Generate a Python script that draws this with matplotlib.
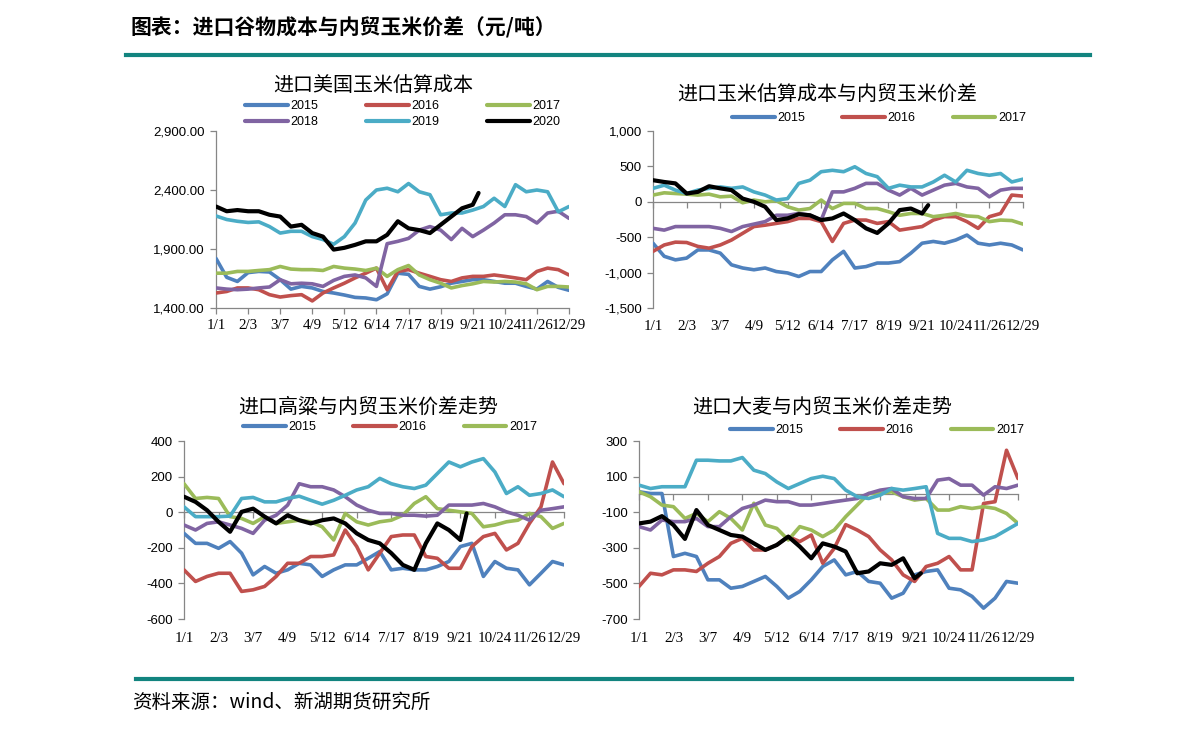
import matplotlib
matplotlib.use('Agg')
import matplotlib.pyplot as plt
from matplotlib.lines import Line2D
from matplotlib.ticker import FuncFormatter

plt.rcParams['font.family'] = ['Noto Sans CJK SC', 'DejaVu Sans']

# x grid: day of year, every 11 days (1/1 .. 12/29)
days = list(range(0, 364, 11))
days_2020 = days[:25] + [270]
tick_days = list(range(0, 364, 33))
tick_labels = ['1/1', '2/3', '3/7', '4/9', '5/12', '6/14', '7/17', '8/19',
               '9/21', '10/24', '11/26', '12/29']
years = ['2015', '2016', '2017', '2018', '2019', '2020']
colors = ['#4F81BD', '#C0504D', '#9BBB59', '#8064A2', '#4BACC6', '#000000']

# 进口美国玉米估算成本
cost_2015 = [1820, 1660, 1625, 1700, 1710, 1705, 1640, 1560, 1583, 1570, 1540, 1527,
             1510, 1490, 1485, 1470, 1520, 1695, 1685, 1583, 1560, 1580, 1610, 1625,
             1640, 1640, 1625, 1610, 1610, 1583, 1560, 1625, 1575, 1550]
cost_2016 = [1527, 1540, 1570, 1570, 1555, 1513, 1493, 1505, 1513, 1460, 1527, 1570,
             1610, 1655, 1695, 1738, 1555, 1710, 1725, 1695, 1668, 1640, 1625, 1655,
             1668, 1668, 1680, 1668, 1655, 1640, 1710, 1738, 1725, 1680]
cost_2017 = [1695, 1695, 1710, 1710, 1718, 1725, 1752, 1730, 1725, 1725, 1718, 1752,
             1738, 1730, 1718, 1738, 1668, 1725, 1760, 1680, 1640, 1610, 1570, 1590,
             1605, 1625, 1620, 1625, 1620, 1605, 1555, 1583, 1583, 1578]
cost_2018 = [1570, 1560, 1555, 1560, 1570, 1578, 1640, 1605, 1610, 1605, 1583, 1634,
             1668, 1680, 1655, 1583, 1945, 1965, 1990, 2060, 2090, 2060, 1980, 2075,
             2005, 2060, 2120, 2190, 2190, 2175, 2120, 2205, 2220, 2160]
cost_2019 = [2180, 2150, 2135, 2125, 2130, 2090, 2035, 2050, 2050, 2005, 1980, 1940,
             2005, 2120, 2315, 2400, 2415, 2385, 2455, 2385, 2360, 2190, 2205, 2205,
             2230, 2260, 2330, 2260, 2445, 2385, 2400, 2385, 2215, 2260]
cost_2020 = [2260, 2220, 2230, 2220, 2220, 2190, 2175, 2090, 2105, 2035, 2005, 1895,
             1910, 1935, 1965, 1965, 2020, 2135, 2075, 2060, 2035, 2105, 2175, 2245,
             2275, 2375]

# 进口玉米估算成本与内贸玉米价差
corn_2015 = [-585, -770, -820, -795, -680, -680, -725, -890, -935, -960, -935, -985,
             -1005, -1055, -985, -985, -820, -700, -935, -915, -865, -865, -845, -725,
             -585, -560, -585, -540, -470, -585, -610, -585, -610, -680]
corn_2016 = [-700, -610, -570, -575, -630, -655, -610, -540, -445, -350, -330, -305,
             -280, -235, -235, -280, -560, -305, -258, -258, -305, -280, -400, -375,
             -350, -258, -210, -210, -280, -375, -210, -165, 95, 80]
corn_2017 = [95, 127, 117, 108, 95, 108, 70, 80, -14, 25, 0, 15, -70, -117, -95, 25,
             -95, -23, -23, -95, -95, -140, -190, -165, -165, -210, -190, -165, -200,
             -210, -280, -258, -265, -315]
corn_2018 = [-375, -400, -350, -350, -350, -350, -375, -420, -350, -315, -280, -190,
             -190, -165, -190, -258, 140, 140, 190, 260, 260, 165, 95, 190, 95, 165,
             235, 260, 210, 190, 70, 165, 190, 190]
corn_2019 = [190, 235, 165, 117, 165, 190, 210, 190, 210, 140, 95, 25, 45, 260, 305,
             425, 445, 425, 495, 400, 355, 190, 235, 210, 210, 280, 375, 280, 445, 400,
             375, 400, 280, 320]
corn_2020 = [305, 280, 260, 117, 140, 220, 190, 165, 45, 0, -70, -258, -235, -175,
             -190, -258, -235, -165, -258, -375, -440, -305, -117, -95, -165, -47]

# 进口高粱与内贸玉米价差走势
sorg_2015 = [-119, -175, -175, -203, -165, -230, -352, -305, -343, -324, -287, -296,
             -361, -324, -296, -296, -259, -221, -324, -315, -324, -324, -305, -277,
             -193, -175, -361, -277, -315, -324, -408, -343, -277, -296]
sorg_2016 = [-324, -389, -361, -343, -343, -445, -436, -417, -361, -287, -287, -249,
             -249, -240, -100, -193, -324, -230, -137, -128, -128, -249, -259, -315,
             -315, -193, -137, -119, -212, -175, -63, 30, 282, 160]
sorg_2017 = [160, 77, 83, 77, -25, -35, -63, -25, -63, -54, -45, -54, -82, -156, -7,
             -54, -72, -54, -45, -17, 49, 87, 20, 11, 2, -7, -82, -72, -54, -45, -7,
             -25, -91, -63]
sorg_2018 = [-72, -100, -63, -54, -72, -91, -119, -45, -17, 40, 160, 143, 143, 125, 87,
             40, 11, -7, -7, -17, -17, -22, -17, 40, 40, 40, 49, 30, 2, -17, -45, 11,
             20, 30]
sorg_2019 = [30, -25, -25, -25, -22, 77, 83, 58, 58, 77, 90, 67, 45, 67, 95, 125, 143,
             190, 160, 143, 133, 152, 217, 282, 255, 282, 301, 226, 105, 143, 95, 105,
             125, 87]
sorg_2020 = [87, 58, 11, -54, -110, 2, 20, -25, -63, -17, -45, -63, -45, -35, -63,
             -119, -156, -175, -230, -296, -324, -175, -63, -100, -156, -7]

# 进口大麦与内贸玉米价差走势
barley_2015 = [15, 5, 5, -349, -331, -349, -480, -480, -527, -517, -489, -461, -517,
               -583, -545, -480, -405, -368, -452, -433, -489, -499, -583, -555, -452,
               -433, -424, -527, -536, -573, -639, -583, -489, -499]
barley_2016 = [-517, -443, -452, -424, -424, -433, -387, -349, -275, -247, -312, -312,
               -284, -237, -265, -228, -387, -303, -170, -200, -237, -312, -368, -452,
               -489, -405, -387, -349, -424, -424, -51, -41, 248, 89]
barley_2017 = [15, -13, -60, -69, -135, -107, -153, -97, -135, -200, -50, -172, -191,
               -256, -181, -200, -237, -200, -125, -60, 5, 5, 15, -13, -32, -23, -88,
               -88, -69, -79, -69, -79, -107, -163]
barley_2018 = [-181, -200, -144, -153, -153, -135, -181, -181, -125, -79, -60, -32, -41,
               -41, -60, -60, -51, -41, -32, -23, 5, 24, 33, -13, -23, -23, 80, 89, 52,
               52, -4, 43, 33, 52]
barley_2019 = [52, 33, 43, 43, 43, 192, 192, 188, 188, 207, 136, 117, 70, 33, 61, 89,
               102, 89, 24, -13, -23, -4, 33, 24, 33, 43, -219, -247, -247, -265, -256,
               -237, -200, -163]
barley_2020 = [-163, -153, -122, -172, -250, -88, -172, -200, -228, -237, -275, -312,
               -284, -237, -293, -359, -275, -293, -321, -443, -433, -387, -396, -359,
               -471, -443]

W, H = 1191, 732
GRAY = '#868686'
fig = plt.figure(figsize=(W / 100, H / 100), dpi=100)


def px_rect(x0, y0, x1, y1):
    return [x0 / W, 1 - y1 / H, (x1 - x0) / W, (y1 - y0) / H]


def draw_panel(rect, series, ylim, yticks, fmt, zero_axis):
    ax = fig.add_axes(rect)
    lines = []
    for name, vals, c in zip(years, series, colors):
        x = days_2020 if name == '2020' else days
        ln, = ax.plot(x, vals, color=c, lw=3.0 if name == '2020' else 2.6,
                      solid_joinstyle='round', solid_capstyle='round',
                      label=name, zorder=3)
        lines.append(ln)
    ax.set_xlim(0, 363)
    ax.set_ylim(*ylim)
    ax.set_yticks(yticks)
    ax.yaxis.set_major_formatter(FuncFormatter(lambda v, p: fmt.format(v)))
    for s in ['top', 'right']:
        ax.spines[s].set_visible(False)
    for s in ['left', 'bottom']:
        ax.spines[s].set_color(GRAY)
        ax.spines[s].set_linewidth(0.9)
    ax.tick_params(axis='y', length=4, width=0.9, color=GRAY, pad=4,
                   labelsize=9.5, labelfontfamily='Liberation Sans')
    ax.set_xticks(tick_days)
    if zero_axis:
        ax.spines['bottom'].set_position(('data', 0))
        ax.tick_params(axis='x', length=4, width=0.9, color=GRAY, labelbottom=False)
        sec = ax.secondary_xaxis('bottom')
        sec.set_xticks(tick_days, tick_labels)
        sec.spines['bottom'].set_visible(False)
        sec.tick_params(length=0, pad=9, labelsize=10.8,
                        labelfontfamily='Liberation Serif')
    else:
        ax.set_xticklabels(tick_labels)
        ax.tick_params(axis='x', length=4, width=0.9, color=GRAY, pad=4, labelsize=10.8,
                       labelfontfamily='Liberation Serif')
    return ax, lines


def add_legend(ax, handles, x, y, colsp):
    leg = ax.legend(handles=handles, loc='center left',
                    bbox_to_anchor=(x / W, 1 - y / H), bbox_transform=fig.transFigure,
                    ncol=3, frameon=False, borderpad=0, borderaxespad=0,
                    handlelength=3.4, handletextpad=0.2, columnspacing=colsp,
                    labelspacing=0.3, prop={'family': 'Liberation Sans', 'size': 9})
    for h in leg.legend_handles:
        h.set_linewidth(3.0)


# panel 1
ax1, l1 = draw_panel(px_rect(216, 131, 569, 308),
                     [cost_2015, cost_2016, cost_2017, cost_2018, cost_2019, cost_2020],
                     (1400, 2900), [1400, 1900, 2400, 2900], '{:,.2f}', False)
add_legend(ax1, [l1[0], l1[3], l1[1], l1[4], l1[2], l1[5]], 245, 114, 3.85)
fig.text(373 / W, 1 - 85 / H, '进口美国玉米估算成本', ha='center', va='center', fontsize=14.4)

# panel 2
ax2, l2 = draw_panel(px_rect(653, 131, 1023, 308),
                     [corn_2015, corn_2016, corn_2017, corn_2018, corn_2019, corn_2020],
                     (-1500, 1000), list(range(-1500, 1001, 500)), '{:,.0f}', True)
add_legend(ax2, l2[:3], 732, 118, 3.0)
fig.text(827 / W, 1 - 95 / H, '进口玉米估算成本与内贸玉米价差', ha='center', va='center',
         fontsize=14.4)

# panel 3
ax3, l3 = draw_panel(px_rect(184, 441, 564, 619),
                     [sorg_2015, sorg_2016, sorg_2017, sorg_2018, sorg_2019, sorg_2020],
                     (-600, 400), list(range(-600, 401, 200)), '{:,.0f}', True)
add_legend(ax3, l3[:3], 243, 427, 3.0)
fig.text(368 / W, 1 - 407 / H, '进口高粱与内贸玉米价差走势', ha='center', va='center',
         fontsize=14.4)

# panel 4
ax4, l4 = draw_panel(px_rect(639, 441, 1018, 619),
                     [barley_2015, barley_2016, barley_2017, barley_2018, barley_2019,
                      barley_2020],
                     (-700, 300), list(range(-700, 301, 200)), '{:,.0f}', True)
add_legend(ax4, l4[:3], 730, 430, 3.0)
fig.text(822 / W, 1 - 407 / H, '进口大麦与内贸玉米价差走势', ha='center', va='center',
         fontsize=14.4)

# header / footer
fig.text(131 / W, 1 - 28 / H, '图表：进口谷物成本与内贸玉米价差（元/吨）',
         ha='left', va='center', fontsize=15, fontweight='bold')
fig.add_artist(Line2D([126 / W, 1090 / W], [1 - 55 / H] * 2, color='#12847F', lw=3))
fig.add_artist(Line2D([136 / W, 1072 / W], [1 - 679 / H] * 2, color='#12847F', lw=3))
fig.text(132 / W, 1 - 702 / H, '资料来源：wind、新湖期货研究所', ha='left', va='center',
         fontsize=14)

fig.savefig('out.png', dpi=100)
